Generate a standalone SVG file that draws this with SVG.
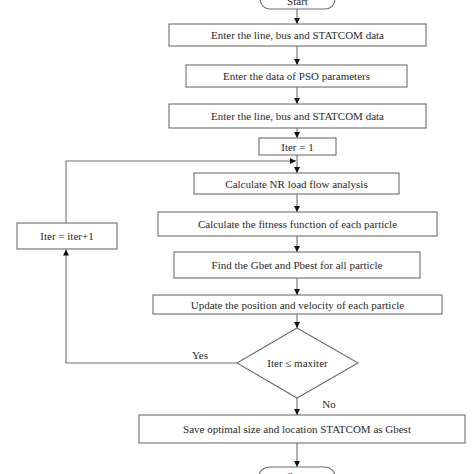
<svg xmlns="http://www.w3.org/2000/svg" width="474" height="474" viewBox="0 0 474 474">
<defs>
<style>
.box{fill:#fff;stroke:#6e6e6e;stroke-width:1.1}
.t{font-family:"Liberation Serif","Times New Roman",serif;font-size:11px;fill:#2a2a2a;text-anchor:middle}
.c{fill:none;stroke:#6e6e6e;stroke-width:1.1}
</style>
<marker id="ah" viewBox="0 0 10 10" refX="10" refY="5" markerWidth="6" markerHeight="6" markerUnits="userSpaceOnUse" orient="auto">
<path d="M0,0 L10,5 L0,10 z" fill="#111"/>
</marker>
</defs>
<rect width="474" height="474" fill="#fff"/>
<g id="connectors">
<line class="c" x1="297" y1="9" x2="297" y2="24" marker-end="url(#ah)"/>
<line class="c" x1="297" y1="46" x2="297" y2="65" marker-end="url(#ah)"/>
<line class="c" x1="297" y1="87" x2="297" y2="104" marker-end="url(#ah)"/>
<line class="c" x1="297" y1="128" x2="297" y2="138" marker-end="url(#ah)"/>
<line class="c" x1="297" y1="155" x2="297" y2="173" marker-end="url(#ah)"/>
<polyline class="c" points="66,223 66,161 296,161" marker-end="url(#ah)"/>
<line class="c" x1="297" y1="194" x2="297" y2="212" marker-end="url(#ah)"/>
<line class="c" x1="297" y1="236" x2="297" y2="252" marker-end="url(#ah)"/>
<line class="c" x1="297" y1="278" x2="297" y2="295" marker-end="url(#ah)"/>
<line class="c" x1="297" y1="314" x2="297" y2="328" marker-end="url(#ah)"/>
<polyline class="c" points="237,363 66,363 66,249.5" marker-end="url(#ah)"/>
<line class="c" x1="297" y1="398" x2="297" y2="415" marker-end="url(#ah)"/>
<line class="c" x1="297" y1="443" x2="297" y2="467" marker-end="url(#ah)"/>
<text class="t" x="200" y="359">Yes</text>
<text class="t" x="329" y="408">No</text>
</g>
<g id="start"><rect class="box" x="260" y="-14" width="75" height="23" rx="10"/><text class="t" x="297.5" y="5">Start</text></g>
<g id="n1"><rect class="box" x="169" y="24" width="257" height="22"/><text class="t" x="297.5" y="39">Enter the line, bus and STATCOM data</text></g>
<g id="n2"><rect class="box" x="186" y="65" width="221" height="22"/><text class="t" x="296.5" y="80">Enter the data of PSO parameters</text></g>
<g id="n3"><rect class="box" x="169" y="104" width="257" height="24"/><text class="t" x="297.5" y="120">Enter the line, bus and STATCOM data</text></g>
<g id="n4"><rect class="box" x="259" y="138" width="77" height="17"/><text class="t" x="297.5" y="150.5">Iter = 1</text></g>
<g id="n5"><rect class="box" x="194" y="173" width="205" height="21"/><text class="t" x="296.5" y="187.5">Calculate NR load flow analysis</text></g>
<g id="n6"><rect class="box" x="158" y="212" width="279" height="24"/><text class="t" x="297.5" y="228">Calculate the fitness function of each particle</text></g>
<g id="n7"><rect class="box" x="174" y="252" width="246" height="26"/><text class="t" x="297" y="269">Find the Gbet and Pbest for all particle</text></g>
<g id="n8"><rect class="box" x="153" y="295" width="289" height="19"/><text class="t" x="297.5" y="308.5">Update the position and velocity of each particle</text></g>
<g id="n9"><polygon class="box" points="297,328 358,363 297,398 237,363"/><text class="t" x="297.5" y="367">Iter ≤ maxiter</text></g>
<g id="n10"><rect class="box" x="17" y="223" width="100" height="26"/><text class="t" x="67" y="240">Iter = iter+1</text></g>
<g id="n11"><rect class="box" x="139" y="415" width="326" height="28"/><text class="t" x="297" y="433">Save optimal size and location STATCOM as Gbest</text></g>
<g id="stop"><rect class="box" x="259" y="467" width="76" height="23" rx="10"/><text class="t" x="297" y="480">Stop</text></g>
</svg>
